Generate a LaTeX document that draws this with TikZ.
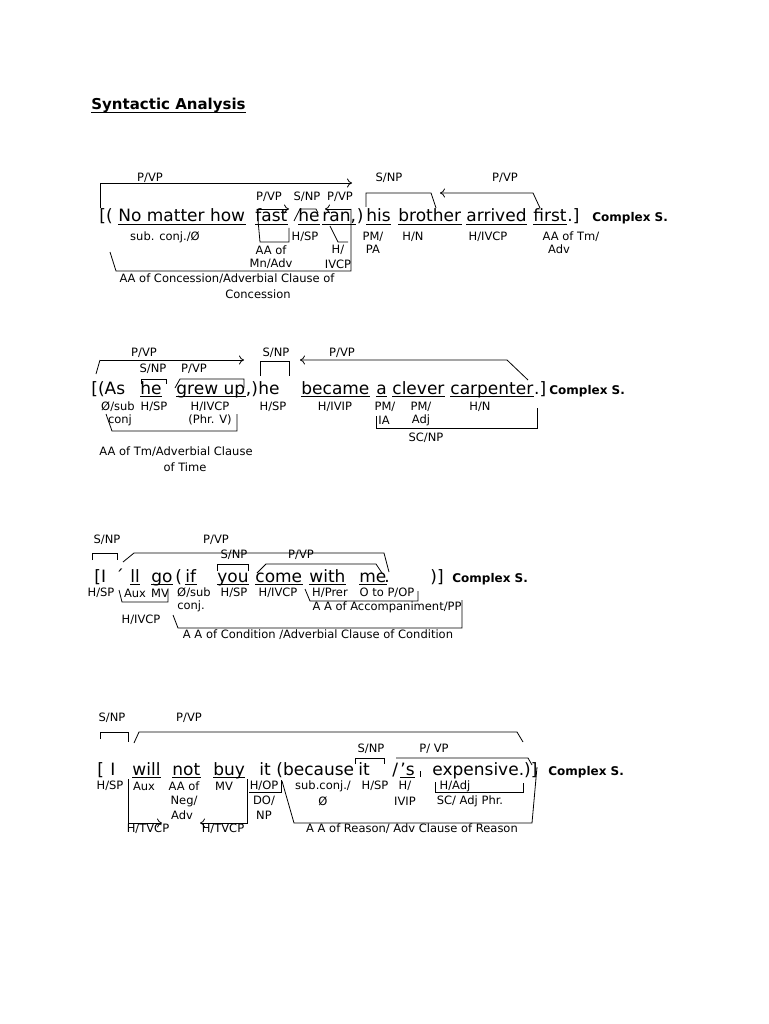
\documentclass[tikz,border=0pt]{standalone}
\usepackage{fontspec}
\setmainfont{DejaVu Sans}
\usetikzlibrary{arrows.meta}
\begin{document}
\begin{tikzpicture}[x=1pt,y=-1pt,line width=0.8pt,
  word/.style={anchor=base west,inner sep=0pt,font=\fontsize{17}{20}\selectfont},
  lab/.style={inner sep=0pt,font=\fontsize{11.5}{13}\selectfont},
  tag/.style={anchor=base west,inner sep=0pt,font=\bfseries\fontsize{12}{14}\selectfont},
  arr/.style={-{To[length=5pt,width=9pt]}}]
\fill[white] (0,0) rectangle (768,1024);
\useasboundingbox (0,0) rectangle (768,1024);
\newcommand\wrd[4]{\node[word] (#1) at (#2,#3) {#4};}
\newcommand\uwrd[4]{\node[word] (#1) at (#2,#3) {#4};\draw ([yshift=-2.5pt]#1.base west) -- ([yshift=-2.5pt]#1.base east);}
\newcommand\aft[3]{\node[word] (#1) at (#2.base east) {#3};}
\newcommand\lb[4]{\node[lab] (#1) at (#2,#3) {#4};}
% title
\node[anchor=base west,inner sep=0pt,font=\bfseries\fontsize{15}{18}\selectfont] (title) at (91,110) {Syntactic Analysis};
\draw ([yshift=-2.5pt]title.base west) -- ([yshift=-2.5pt]title.base east);

% ===== Sentence 1 =====
\wrd{a0}{99}{222}{[(}
\uwrd{a1}{118}{222}{No matter how}
\uwrd{a2}{255}{222}{fast}
\uwrd{a3}{298}{222}{he}
\uwrd{a4}{322}{222}{ran,}
\aft{a4b}{a4}{)}
\uwrd{a5}{366}{222}{his}
\uwrd{a6}{398}{222}{brother}
\uwrd{a7}{466}{222}{arrived}
\uwrd{a8}{533}{222}{first}
\aft{a9}{a8}{.]}
\node[tag] (c1) at (592,222) {Complex S.};
\lb{p1}{150}{178}{P/VP}\lb{s1}{389}{178}{S/NP}\lb{p2}{505}{178}{P/VP}
\draw[arr] (100,208) -- (100,183) -- (352,183);
\draw (366,207) -- (366,193) -- (431,193) -- (436,208);
\draw[arr] (540,208) -- (533,193) -- (440,193);
\lb{p3}{269}{197}{P/VP}\lb{s3}{307}{197}{S/NP}\lb{p4}{340}{197}{P/VP}
\draw[arr] (257,209) -- (289,209);
\draw (257,209) -- (260,242) -- (289,242) -- (289,228);
\draw (294,221) -- (300,209) -- (316,209) -- (318,213);
\draw[arr] (351,209) -- (325,209);
\draw (330,226) -- (338,242) -- (348,242);
\lb{l1}{165}{237}{sub. conj./Ø}
\lb{l2}{305}{237}{H/SP}
\lb{l3}{271}{250}{AA of}\lb{l4}{271}{264}{Mn/Adv}
\lb{l5}{338}{250}{H/}\lb{l6}{338}{264}{IVCP}
\lb{l7}{373}{237}{PM/}\lb{l8}{373}{249}{PA}
\lb{l9}{413}{237}{H/N}
\lb{l10}{488}{237}{H/IVCP}
\lb{l11}{571}{237}{AA of Tm/}\lb{l12}{559}{249}{Adv}
\draw (110,252) -- (116,271) -- (351,271) -- (351,209);
\lb{l13}{227}{279}{AA of Concession/Adverbial Clause of}
\lb{l14}{258}{294}{Concession}

% ===== Sentence 2 =====
\wrd{b0}{91}{394}{[(As}
\uwrd{b1}{140}{394}{he}
\uwrd{b2}{176}{394}{grew up}
\aft{b2b}{b2}{,)}
\wrd{b3}{258}{394}{he}
\uwrd{b4}{301}{394}{became}
\uwrd{b5}{376}{394}{a}
\uwrd{b6}{392}{394}{clever}
\uwrd{b7}{450}{394}{carpenter}
\aft{b8}{b7}{.]}
\node[tag] (c2) at (549,394) {Complex S.};
\lb{q1}{144}{353}{P/VP}\lb{q2}{276}{353}{S/NP}\lb{q3}{342}{353}{P/VP}
\draw (96,374) -- (100,360);
\draw[arr] (100,360) -- (244,360);
\draw (260,376) -- (260,361) -- (289,361) -- (289,376);
\draw[arr] (528,380) -- (507,360) -- (300,360);
\lb{q4}{153}{369}{S/NP}\lb{q5}{194}{369}{P/VP}
\draw (141,384) -- (141,379) -- (166,379) -- (166,384);
\draw (175,388) -- (180,379) -- (244,379) -- (244,388);
\lb{m1}{118}{407}{Ø/sub}\lb{m2}{120}{420}{conj}
\lb{m3}{154}{407}{H/SP}
\lb{m4}{210}{407}{H/IVCP}\lb{m5}{210}{420}{(Phr. V)}
\lb{m6}{273}{407}{H/SP}
\lb{m7}{335}{407}{H/IVIP}
\lb{m8}{385}{407}{PM/}\lb{m9}{384}{420}{IA}
\lb{m10}{421}{407}{PM/}\lb{m11}{421}{420}{Adj}
\lb{m12}{480}{407}{H/N}
\draw (106,414) -- (112,431) -- (237,431) -- (237,414);
\draw (376,416) -- (376,428) -- (537,428) -- (537,408);
\lb{m13}{426}{438}{SC/NP}
\lb{m14}{176}{452}{AA of Tm/Adverbial Clause}
\lb{m15}{185}{467}{of Time}

% ===== Sentence 3 =====
\wrd{d0}{94}{582}{[I}
\wrd{d0b}{115}{582}{´}
\uwrd{d1}{130}{582}{ll}
\uwrd{d2}{151}{582}{go}
\wrd{d3a}{175}{582}{(}
\uwrd{d3}{185}{582}{if}
\uwrd{d4}{217}{582}{you}
\uwrd{d5}{255}{582}{come}
\uwrd{d6}{309}{582}{with\ }
\uwrd{d7}{359}{582}{me}
\wrd{d8}{384}{582}{.}
\wrd{d9}{430}{582}{)]}
\node[tag] (c3) at (452,582) {Complex S.};
\lb{r1}{107}{540}{S/NP}\lb{r2}{216}{540}{P/VP}
\draw (92,560) -- (92,553) -- (117,553) -- (117,560);
\draw (123,562) -- (134,553) -- (384,553) -- (389,572);
\lb{r3}{234}{555}{S/NP}\lb{r4}{301}{555}{P/VP}
\draw (217,571) -- (217,564) -- (248,564) -- (248,571);
\draw (257,573) -- (266,564) -- (376,564) -- (382,573);
\lb{n1}{101}{593}{H/SP}\lb{n2}{135}{593}{Aux}\lb{n3}{160}{593}{MV}
\lb{n4}{194}{593}{Ø/sub}\lb{n5}{191}{606}{conj.}
\lb{n6}{234}{593}{H/SP}\lb{n7}{278}{593}{H/IVCP}
\lb{n8}{330}{593}{H/Prer}\lb{n9}{387}{593}{O to P/OP}
\draw (119,590) -- (122,602) -- (168,602) -- (168,590);
\lb{n10}{141}{620}{H/IVCP}
\draw (305,589) -- (310,601) -- (418,601) -- (418,591);
\lb{n11}{387}{607}{A A of Accompaniment/PP}
\draw (173,615) -- (178,628) -- (462,628) -- (462,600);
\lb{n12}{318}{635}{A A of Condition /Adverbial Clause of Condition}

% ===== Sentence 4 =====
\wrd{e0}{97}{775}{[}
\wrd{e1}{110}{775}{I}
\uwrd{e2}{132}{775}{will}
\uwrd{e3}{172}{775}{not}
\uwrd{e4}{213}{775}{buy}
\wrd{e5}{259}{775}{it}
\wrd{e6}{276}{775}{(because}
\wrd{e7}{358}{775}{it}
\wrd{e7b}{392}{775}{/}
\uwrd{e8}{400}{775}{’s}
\wrd{e9}{432}{775}{expensive.)]}
\node[tag] (c4) at (548,775) {Complex S.};
\lb{t1}{112}{718}{S/NP}\lb{t2}{189}{718}{P/VP}
\draw (100,739) -- (100,732) -- (128,732) -- (128,742);
\draw (134,743) -- (139,732) -- (517,732) -- (523,742);
\lb{t3}{371}{749}{S/NP}\lb{t4}{434}{749}{P/ VP}
\draw (355,764) -- (355,758) -- (384,758) -- (384,764);
\draw (396,758) -- (528,758) -- (532,765);
\draw (420,771) -- (420,777);
\lb{u1}{110}{786}{H/SP}\lb{u2}{144}{786}{Aux}
\lb{u3}{184}{786}{AA of}\lb{u4}{184}{801}{Neg/}\lb{u5}{182}{815}{Adv}
\lb{u6}{224}{786}{MV}
\lb{u7}{264}{786}{H/OP}\lb{u8}{264}{801}{DO/}\lb{u9}{264}{815}{NP}
\lb{u10}{323}{786}{sub.conj./}\lb{u11}{323}{801}{Ø}
\lb{u12}{375}{786}{H/SP}
\lb{u13}{405}{786}{H/}\lb{u14}{405}{801}{IVIP}
\lb{u15}{455}{786}{H/Adj}\lb{u16}{470}{801}{SC/ Adj Phr.}
\draw[arr] (128,779) -- (128,823) -- (162,823);
\draw[arr] (247,779) -- (247,823) -- (200,823);
\draw (249,792) -- (281,792) -- (281,780);
\draw (282,781) -- (294,823) -- (532,823) -- (537,767);
\draw (435,782) -- (435,792) -- (523,792) -- (523,783);
\lb{u17}{148}{829}{H/TVCP}\lb{u18}{223}{829}{H/TVCP}
\lb{u19}{412}{829}{A A of Reason/ Adv Clause of Reason}
\end{tikzpicture}
\end{document}
